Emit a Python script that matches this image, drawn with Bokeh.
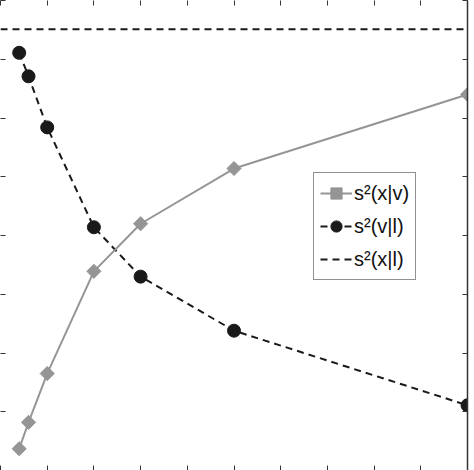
from bokeh.plotting import figure
from bokeh.models import Range1d, LinearAxis, FixedTicker, Legend, LegendItem, CustomJSTickFormatter
from bokeh.embed import file_html
from bokeh.resources import INLINE
import numpy as np

# data
x_vals = [0.4, 0.6, 1, 2, 3, 5, 10]
s2_x_given_v = [0.37, 0.82, 1.65, 3.39, 4.20, 5.14, 6.40]
s2_v_given_l = [7.11, 6.71, 5.84, 4.14, 3.30, 2.38, 1.11]
s2_x_given_l = 7.51
x_ticks = list(range(0, 11))
y_ticks = list(range(0, 9))
labels = ["s\u00b2(x|v)", "s\u00b2(v|l)", "s\u00b2(x|l)"]

X0, X1 = 0, 10
Y0, Y1 = 0, 8

p = figure(frame_width=467, frame_height=470, output_backend="svg",
           toolbar_location=None, x_range=Range1d(X0, X1), y_range=Range1d(Y0, Y1),
           min_border=0, min_border_right=7, x_axis_location=None, y_axis_location=None)
p.outline_line_color = None
p.xgrid.visible = False
p.ygrid.visible = False
p.background_fill_color = "white"
p.border_fill_color = "white"

def mk_axis(ticks, show_line):
    ax = LinearAxis(ticker=FixedTicker(ticks=ticks))
    ax.formatter = CustomJSTickFormatter(code="return ''")
    ax.major_label_text_font_size = "0px"
    ax.major_label_standoff = 0
    ax.major_tick_in = 5
    ax.major_tick_out = 0
    ax.minor_tick_line_color = None
    ax.major_tick_line_color = "#333333"
    ax.major_tick_line_width = 1
    if show_line:
        ax.axis_line_color = "#333333"
        ax.axis_line_width = 1.5
    else:
        ax.axis_line_color = None
    return ax

p.add_layout(mk_axis(x_ticks, False), "below")
p.add_layout(mk_axis(x_ticks, False), "above")
p.add_layout(mk_axis(y_ticks, False), "left")
p.add_layout(mk_axis(y_ticks, True), "right")

gray = "#959595"
black = "#1a1a1a"

# horizontal dashed line s2(x|l)
r3 = p.line(x=[X0, X1], y=[s2_x_given_l, s2_x_given_l], line_color=black,
            line_width=2, line_dash="7 5")

# s2(v|l)
r2l = p.line(x=x_vals, y=s2_v_given_l, line_color=black, line_width=2, line_dash="7 5")
r2m = p.scatter(x=x_vals, y=s2_v_given_l, marker="circle", size=13,
                fill_color=black, line_color=black)

# s2(x|v)
r1l = p.line(x=x_vals, y=s2_x_given_v, line_color=gray, line_width=2)
r1m = p.scatter(x=x_vals, y=s2_x_given_v, marker="square", angle=np.pi / 4, size=10,
                fill_color=gray, line_color=gray)

legend = Legend(items=[
    LegendItem(label=labels[0], renderers=[r1l, r1m]),
    LegendItem(label=labels[1], renderers=[r2l, r2m]),
    LegendItem(label=labels[2], renderers=[r3]),
], location=(313, 190))
legend.label_text_font = "Liberation Sans"
legend.label_text_font_size = "20px"
legend.label_text_color = "#111111"
legend.border_line_color = "#222222"
legend.border_line_width = 1
legend.glyph_width = 32
legend.glyph_height = 28
legend.label_height = 28
legend.label_standoff = 2
legend.spacing = 5
legend.padding = 6
legend.margin = 0
legend.background_fill_alpha = 1
p.add_layout(legend, "center")

open("out.html", "w").write(file_html(p, INLINE))
